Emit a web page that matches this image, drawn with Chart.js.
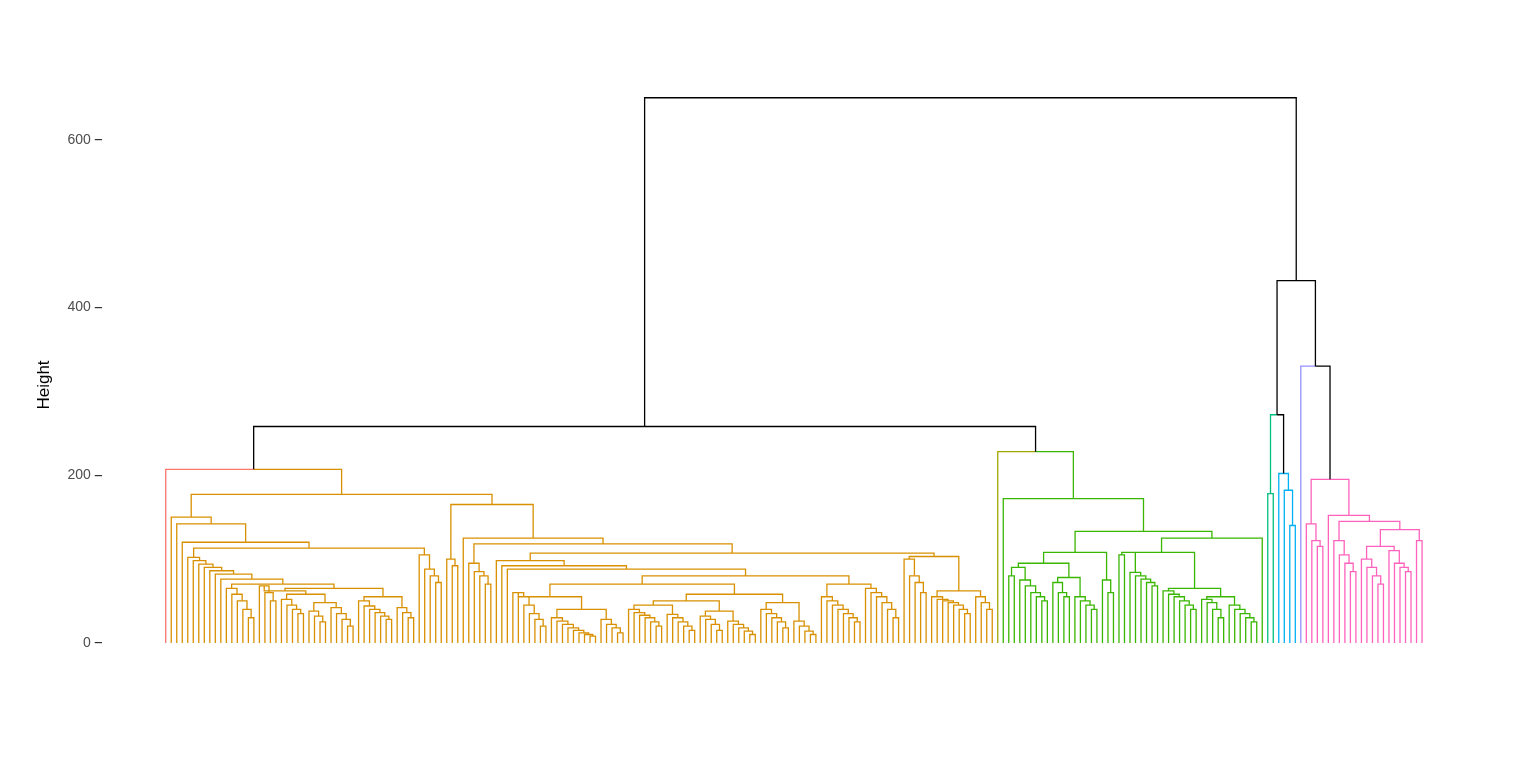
<!DOCTYPE html>
<html><head><meta charset="utf-8">
<script src="https://cdn.jsdelivr.net/npm/chart.js@4.4.1/dist/chart.umd.min.js"></script>
<style>html,body{margin:0;padding:0;background:#fff}#w{width:1516px;height:777px}</style>
</head><body><div id="w"><canvas id="c"></canvas></div>
<script>
// Merge tree (Newick-like): leaf letter = cluster, number after ")" = merge height
const OL = "(o,(o,(o,((o,(o,(o,(o,(o,(o,(o,((o,(o,(o,(o,(o,o)30)40)50)58)65,(((o,(o,(o,o)50)60)68,((o,(o,(o,(o,o)35)40)45)52,((o,(o,(o,o)25)32)38,(o,(o,(o,(o,o)20)28)35)42)48)58)62,((o,(o,(o,(o,(o,(o,o)28)32)36)40)44)50,(o,(o,(o,o)30)36)42)55)65)70)76)82)86)90)94)98)102,(o,(o,(o,(o,o)72)80)88)105)113)120)142)150";
const S1 = "(o,(o,(o,(o,(o,(o,o)20)28)35)45)55)60";
const S2 = "((o,(o,(o,(o,(o,(o,(o,(o,o)8)10)12)15)18)22)26)30,(o,(o,(o,(o,o)12)18)22)28)40";
const S3 = "((o,(o,(o,(o,(o,(o,o)20)25)30)33)36)40,(o,(o,(o,(o,(o,o)15)20)25)30)34)45";
const S4 = "((o,(o,(o,(o,(o,o)18)25)30)35)40,(o,(o,(o,(o,o)10)14)20)26)48";
const S5 = "(o,(o,(o,(o,(o,(o,o)30)40)48)55)60)65";
const S6 = "((o,(o,(o,(o,o)15)22)28)32,(o,(o,(o,(o,(o,o)10)14)18)22)26)38";
const S7 = "(o,(o,(o,(o,(o,(o,(o,o)25)30)35)40)45)50)55";
const R3 = "(o,(o,(o,(((" + S1 + "," + S2 + ")55,((" + S3 + "," + S6 + ")50," + S4 + ")58)70,(" + S7 + "," + S5 + ")70)80)88)92)98";
const R4 = "(o,(o,(o,(o,o)60)72)80)100";
const R5 = "((o,(o,(o,(o,(o,(o,(o,o)35)40)45)48)50)52)55,(o,(o,(o,o)40)48)55)62";
const OR = "((o,(o,o)92)100,(o,((o,(o,(o,(o,o)70)80)85)95,(" + R3 + ",(" + R4 + "," + R5 + ")103)107)118)125)165";
const GA = "((((g,g)80,(g,(g,(g,(g,(g,g)50)55)60)68)75)90,((g,(g,(g,g)55)60)72,(g,(g,(g,(g,g)40)45)50)55)78)95,(g,(g,g)60)75)108";
const GB1 = "((g,g)105,(g,(g,(g,(g,(g,g)68)72)76)80)84)108";
const GB2 = "((g,(g,(g,(g,(g,(g,g)40)45)50)55)58)62,((g,(g,(g,(g,g)30)40)48)52,(g,(g,(g,(g,(g,g)25)30)35)40)45)55)65";
const GREEN = "(y,(g,(" + GA + ",((" + GB1 + "," + GB2 + ")108,g)125)133)172)228";
const PINK = "((m,(m,(m,m)115)122)142,(m,((m,(m,(m,(m,m)85)95)105)122,(((m,(m,(m,(m,m)70)80)90)100,(m,(m,(m,(m,m)85)90)95)110)115,(m,m)122)135)145)152)195";
const RIGHT = "(((t,t)178,(b,(b,(b,b)140)182)202)272,(v," + PINK + ")330)432";
const TREE = "(((r,(" + OL + "," + OR + ")177)207," + GREEN + ")258," + RIGHT + ")650";
const clusterColors = {r:"#F8766D",o:"#D89000",y:"#A3A500",g:"#39B600",t:"#00BF7D",b:"#00B0F6",v:"#9590FF",m:"#FF62BC"};
const blackTopClusters = ["b","m"]; // clusters whose top link is drawn black in the reference
const yTicks = [0,200,400,600];

let pos = 0, leafCount = 0;
function parse(){
  if (TREE[pos] === "(") {
    pos++;
    const kids = [parse()];
    while (TREE[pos] === ",") { pos++; kids.push(parse()); }
    pos++;
    let s = pos; while (pos < TREE.length && /[0-9.]/.test(TREE[pos])) pos++;
    const h = parseFloat(TREE.slice(s,pos));
    const x = kids.reduce((a,k)=>a+k.x,0)/kids.length;
    const cl = kids.every(k=>k.cl===kids[0].cl) ? kids[0].cl : null;
    return {kids,h,x,cl};
  }
  const c = TREE[pos++];
  return {kids:[],h:0,x:leafCount++,cl:c};
}
const root = parse();
const N = leafCount;
const segs = {};
function walk(n){
  n.kids.forEach(k=>{
    let col = k.cl ? clusterColors[k.cl] : "#000000";
    if (k.cl && !n.cl && blackTopClusters.includes(k.cl)) col = "#000000";
    (segs[col] = segs[col] || []).push({x:k.x,y:k.h},{x:k.x,y:n.h},{x:n.x,y:n.h},{x:n.x,y:null});
    walk(k);
  });
}
walk(root);
const datasets = Object.keys(segs).map(c=>({data:segs[c],borderColor:c,borderWidth:1.3,pointRadius:0,tension:0,spanGaps:false,fill:false}));
const pxPer = (1422-165)/(N-1);
const xMin = -(165-101)/pxPer, xMax = (N-1) + (1480-1422)/pxPer;

new Chart(document.getElementById("c"),{
  type:"line",
  data:{datasets},
  options:{
    responsive:true,maintainAspectRatio:false,animation:false,
    layout:{padding:{left:30,right:36,top:60,bottom:67}},
    plugins:{legend:{display:false},tooltip:{enabled:false}},
    scales:{
      x:{type:"linear",min:xMin,max:xMax,display:false},
      y:{type:"linear",min:-80,max:695,
        afterBuildTicks:(ax)=>{ax.ticks=yTicks.map(v=>({value:v}));},
        border:{display:false},
        grid:{drawOnChartArea:false,drawTicks:true,tickLength:7,color:"#333333",lineWidth:1.2},
        ticks:{color:"#4d4d4d",font:{family:"Liberation Sans, Arial",size:14},padding:4},
        title:{display:true,text:"Height",color:"#000",padding:{top:4,bottom:9},font:{family:"Liberation Sans, Arial",size:17}}
      }
    }
  }
});
</script></body></html>
